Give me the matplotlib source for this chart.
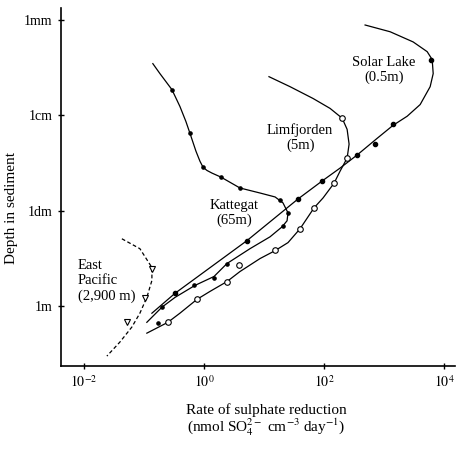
import matplotlib
matplotlib.use('Agg')
import matplotlib.pyplot as plt

plt.rcParams['font.family'] = ['Liberation Serif', 'DejaVu Serif']
plt.rcParams['mathtext.fontset'] = 'stix'

# depth in metres, rate in nmol SO4 cm-3 day-1
# Solar Lake (0.5m)
solar_rate = [6000, 1410, 708, 355, 92.6, 36.9, 5.2, 0.33]
solar_depth = [0.0026, 0.0124, 0.020, 0.026, 0.0487, 0.075, 0.205, 0.73]
solar_curve_rate = [482, 1259, 3043, 5210, 6310, 6560, 5840, 3980, 2420, 1410, 764,
                    355, 185, 92.6, 36.9, 5.2, 0.33, 0.136]
solar_curve_depth = [0.00113, 0.00133, 0.0017, 0.00215, 0.0026, 0.00365, 0.005, 0.0077,
                     0.0102, 0.0127, 0.0174, 0.026, 0.0356, 0.0487, 0.075, 0.205, 0.73, 1.18]

# Limfjorden (5m)
limf_rate = [200, 242, 147, 68.1, 39.8, 15.3, 3.83, 2.42, 0.764, 0.251]
limf_depth = [0.0107, 0.028, 0.0512, 0.093, 0.154, 0.255, 0.365, 0.55, 0.846, 1.47]
limf_curve_rate = [12.1, 27.1, 65.6, 126, 200, 242, 261, 242, 185, 147, 96.2, 68.1, 39.8,
                   25.1, 15.3, 8.58, 3.98, 2.42, 1.26, 0.764, 0.398, 0.251, 0.112]
limf_curve_depth = [0.00393, 0.005, 0.00665, 0.00845, 0.0107, 0.014, 0.020, 0.028, 0.0383,
                    0.0512, 0.0732, 0.093, 0.154, 0.215, 0.261, 0.316, 0.432, 0.55, 0.698,
                    0.846, 1.18, 1.47, 1.91]

# Kattegat (65m)
katt_rate = [0.293, 0.585, 0.963, 1.92, 3.98, 18.5, 25.1, 20.7, 2.42, 1.47, 0.68, 0.2, 0.171]
katt_depth = [0.00537, 0.0154, 0.0348, 0.0443, 0.0576, 0.0768, 0.105, 0.143, 0.356, 0.5,
              0.604, 1.02, 1.5]
katt_curve_rate = [0.141, 0.185, 0.293, 0.398, 0.5, 0.585, 0.736, 0.858, 0.963, 1.12, 1.36,
                   1.92, 3.98, 8.58, 15.3, 20.7, 25.1, 24.2, 20, 12.6, 5.84, 2.42, 1.47,
                   0.708, 0.33, 0.2, 0.112]
katt_curve_depth = [0.00287, 0.00365, 0.00537, 0.00806, 0.01155, 0.0154, 0.0237, 0.0302,
                    0.0348, 0.0377, 0.0402, 0.0443, 0.0576, 0.065, 0.0715, 0.0825, 0.105,
                    0.127, 0.147, 0.187, 0.249, 0.356, 0.487, 0.604, 0.806, 1.02, 1.47]

# East Pacific (2,900 m)
pac_rate = [0.136, 0.104, 0.052]
pac_depth = [0.402, 0.825, 1.47]
pac_curve_rate = [0.043, 0.0858, 0.136, 0.136, 0.112, 0.0858, 0.063, 0.0398, 0.0242]
pac_curve_depth = [0.196, 0.249, 0.392, 0.536, 0.806, 1.18, 1.65, 2.37, 3.32]

x_ticks = [1e-2, 1e0, 1e2, 1e4]
x_ticklabels = [r'$10^{-2}$', r'$10^{0}$', r'$10^{2}$', r'$10^{4}$']
y_ticks = [1e-3, 1e-2, 1e-1, 1]
y_ticklabels = ['1mm', '1cm', '1dm', '1m']

fig = plt.figure(figsize=(4.74, 4.51), dpi=100)
ax = fig.add_axes([61 / 474, 1 - 366 / 451, 394 / 474, 358 / 451])

ax.plot(solar_curve_rate, solar_curve_depth, color='black', lw=0.9)
ax.plot(solar_rate, solar_depth, 'o', color='black', ms=3)

ax.plot(limf_curve_rate, limf_curve_depth, color='black', lw=0.9)
ax.plot(limf_rate, limf_depth, 'o', mfc='white', mec='black', ms=4, mew=0.8)

ax.plot(katt_curve_rate, katt_curve_depth, color='black', lw=0.9)
ax.plot(katt_rate, katt_depth, 'o', color='black', ms=2.3)

ax.plot(pac_curve_rate, pac_curve_depth, color='black', lw=0.9, ls=(0, (3, 2)))
ax.plot(pac_rate, pac_depth, 'v', mfc='white', mec='black', ms=4.5, mew=0.8)

ax.set_xscale('log')
ax.set_yscale('log')
ax.set_xlim(10 ** -2.38, 10 ** 4.18)
ax.set_ylim(10 ** 0.625, 10 ** -3.125)

ax.spines['top'].set_visible(False)
ax.spines['right'].set_visible(False)
ax.spines['left'].set_linewidth(1.2)
ax.spines['bottom'].set_linewidth(1.2)

ax.set_xticks(x_ticks)
ax.set_xticklabels(x_ticklabels, fontsize=10)
ax.set_yticks(y_ticks)
ax.set_yticklabels(y_ticklabels, fontsize=10)
ax.minorticks_off()
ax.tick_params(axis='both', direction='inout', length=4, width=1, pad=4)

ax.text(1000, 0.00336, 'Solar Lake\n(0.5m)', ha='center', va='center', fontsize=10.5)
ax.text(40, 0.0171, 'Limfjorden\n(5m)', ha='center', va='center', fontsize=10.5)
ax.text(3.16, 0.105, 'Kattegat\n(65m)', ha='center', va='center', fontsize=10.5)
ax.text(0.00794, 0.542, 'East\nPacific\n(2,900 m)', ha='left', va='center', fontsize=10.5)

fig.text(266 / 474, 1 - 410 / 451, 'Rate of sulphate reduction', ha='center', va='center',
         fontsize=11)
fig.text(266 / 474, 1 - 427 / 451, r'(nmol SO$_4^{2-}$ cm$^{-3}$ day$^{-1}$)', ha='center',
         va='center', fontsize=11)
fig.text(12 / 474, 1 - 208 / 451, 'Depth in sediment', rotation=90, ha='center', va='center',
         fontsize=11)

fig.savefig('out.png', dpi=100)
